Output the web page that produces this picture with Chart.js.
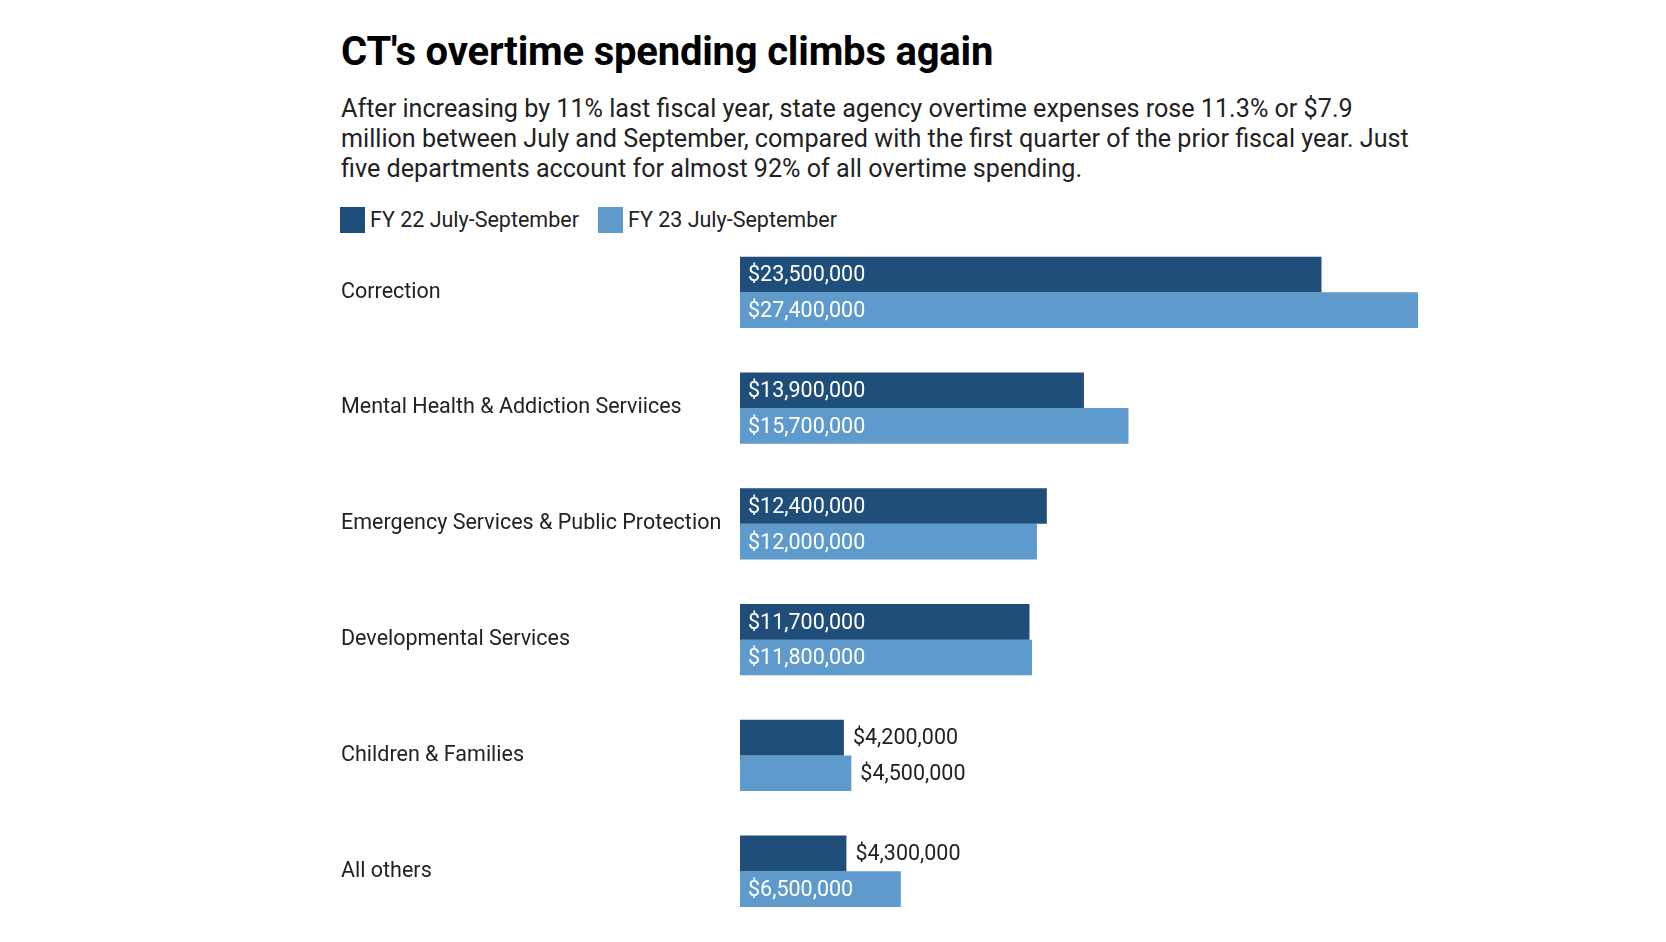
<!DOCTYPE html>
<html>
<head>
<meta charset="utf-8">
<script src="https://cdn.jsdelivr.net/npm/chart.js@4"></script>
<style>
  html, body { margin: 0; padding: 0; background: #fff; }
  body { width: 1666px; height: 942px; position: relative; overflow: hidden; font-family: Roboto, "Noto Sans", sans-serif; }
  #title { position: absolute; left: 341px; top: 31.5px; font-size: 40px; line-height: 40px; font-weight: 700; color: #000; white-space: nowrap; letter-spacing: -0.2px; }
  #sub { position: absolute; left: 341px; top: 94px; font-size: 25.15px; line-height: 30px; color: #222; white-space: nowrap; }
  .leg { position: absolute; top: 207px; height: 26px; display: flex; align-items: center; font-size: 21.5px; line-height: 26px; color: #222; white-space: nowrap; }
  .leg i { display: inline-block; width: 25px; height: 26px; margin-right: 5px; }
  #wrap { position: absolute; left: 0; top: 0; width: 1666px; height: 942px; }
</style>
</head>
<body>
<div id="title">CT's overtime spending climbs again</div>
<div id="sub">After increasing by 11% last fiscal year, state agency overtime expenses rose 11.3% or $7.9<br>million between July and September, compared with the first quarter of the prior fiscal year. Just<br>five departments account for almost 92% of all overtime spending.</div>
<div class="leg" id="leg1" style="left:340px"><i id="sw1"></i><span id="lt1"></span></div>
<div class="leg" id="leg2" style="left:598px"><i id="sw2"></i><span id="lt2"></span></div>
<div id="wrap"><canvas id="c" width="1666" height="942"></canvas></div>
<script>
const categories = ['Correction', 'Mental Health & Addiction Serviices', 'Emergency Services & Public Protection', 'Developmental Services', 'Children & Families', 'All others'];
const seriesNames = ['FY 22 July-September', 'FY 23 July-September'];
const fy22 = [23500000, 13900000, 12400000, 11700000, 4200000, 4300000];
const fy23 = [27400000, 15700000, 12000000, 11800000, 4500000, 6500000];
const colors = ['#1f4e7a', '#5e9bcc'];

document.getElementById('sw1').style.background = colors[0];
document.getElementById('sw2').style.background = colors[1];
document.getElementById('lt1').textContent = seriesNames[0];
document.getElementById('lt2').textContent = seriesNames[1];

const fmt = v => '$' + v.toLocaleString('en-US');

const valueLabels = {
  id: 'valueLabels',
  afterDatasetsDraw(chart) {
    const ctx = chart.ctx;
    ctx.save();
    ctx.font = '21.5px Roboto';
    ctx.textBaseline = 'middle';
    ctx.textAlign = 'left';
    chart.data.datasets.forEach((ds, di) => {
      const meta = chart.getDatasetMeta(di);
      meta.data.forEach((bar, i) => {
        const txt = fmt(ds.data[i]);
        const w = ctx.measureText(txt).width;
        const left = Math.min(bar.base, bar.x);
        const right = Math.max(bar.base, bar.x);
        const off = 8;
        if (right - left >= w + 2 * off) {
          ctx.fillStyle = '#ffffff';
          ctx.fillText(txt, left + off, bar.y + 1.5);
        } else {
          ctx.fillStyle = '#222222';
          ctx.fillText(txt, right + off + 1, bar.y + 1.5);
        }
      });
    });
    ctx.restore();
  }
};

function draw() {
  new Chart(document.getElementById('c'), {
    type: 'bar',
    data: {
      labels: categories,
      datasets: [
        { label: seriesNames[0], data: fy22, backgroundColor: colors[0], borderWidth: 0 },
        { label: seriesNames[1], data: fy23, backgroundColor: colors[1], borderWidth: 0 }
      ]
    },
    options: {
      indexAxis: 'y',
      responsive: false,
      animation: false,
      devicePixelRatio: 1,
      layout: { padding: { left: 341, right: 248, top: 234.425, bottom: 1.675 } },
      categoryPercentage: 72.5 / 117.65,
      barPercentage: 1,
      plugins: { legend: { display: false }, tooltip: { enabled: false } },
      scales: {
        x: { display: false, min: 0, max: Math.max(...fy22, ...fy23) },
        y: {
          grid: { display: false, drawTicks: false },
          border: { display: false },
          ticks: { crossAlign: 'far', color: '#222', font: { family: 'Roboto', size: 21.5 }, padding: 0 },
          afterFit(scale) { scale.width = 740 - 341; }
        }
      }
    },
    plugins: [valueLabels]
  });
}
if (document.fonts && document.fonts.load) {
  Promise.all([document.fonts.load('21.5px Roboto'), document.fonts.load('bold 40px Roboto')]).then(draw, draw);
} else { draw(); }
</script>
</body>
</html>
